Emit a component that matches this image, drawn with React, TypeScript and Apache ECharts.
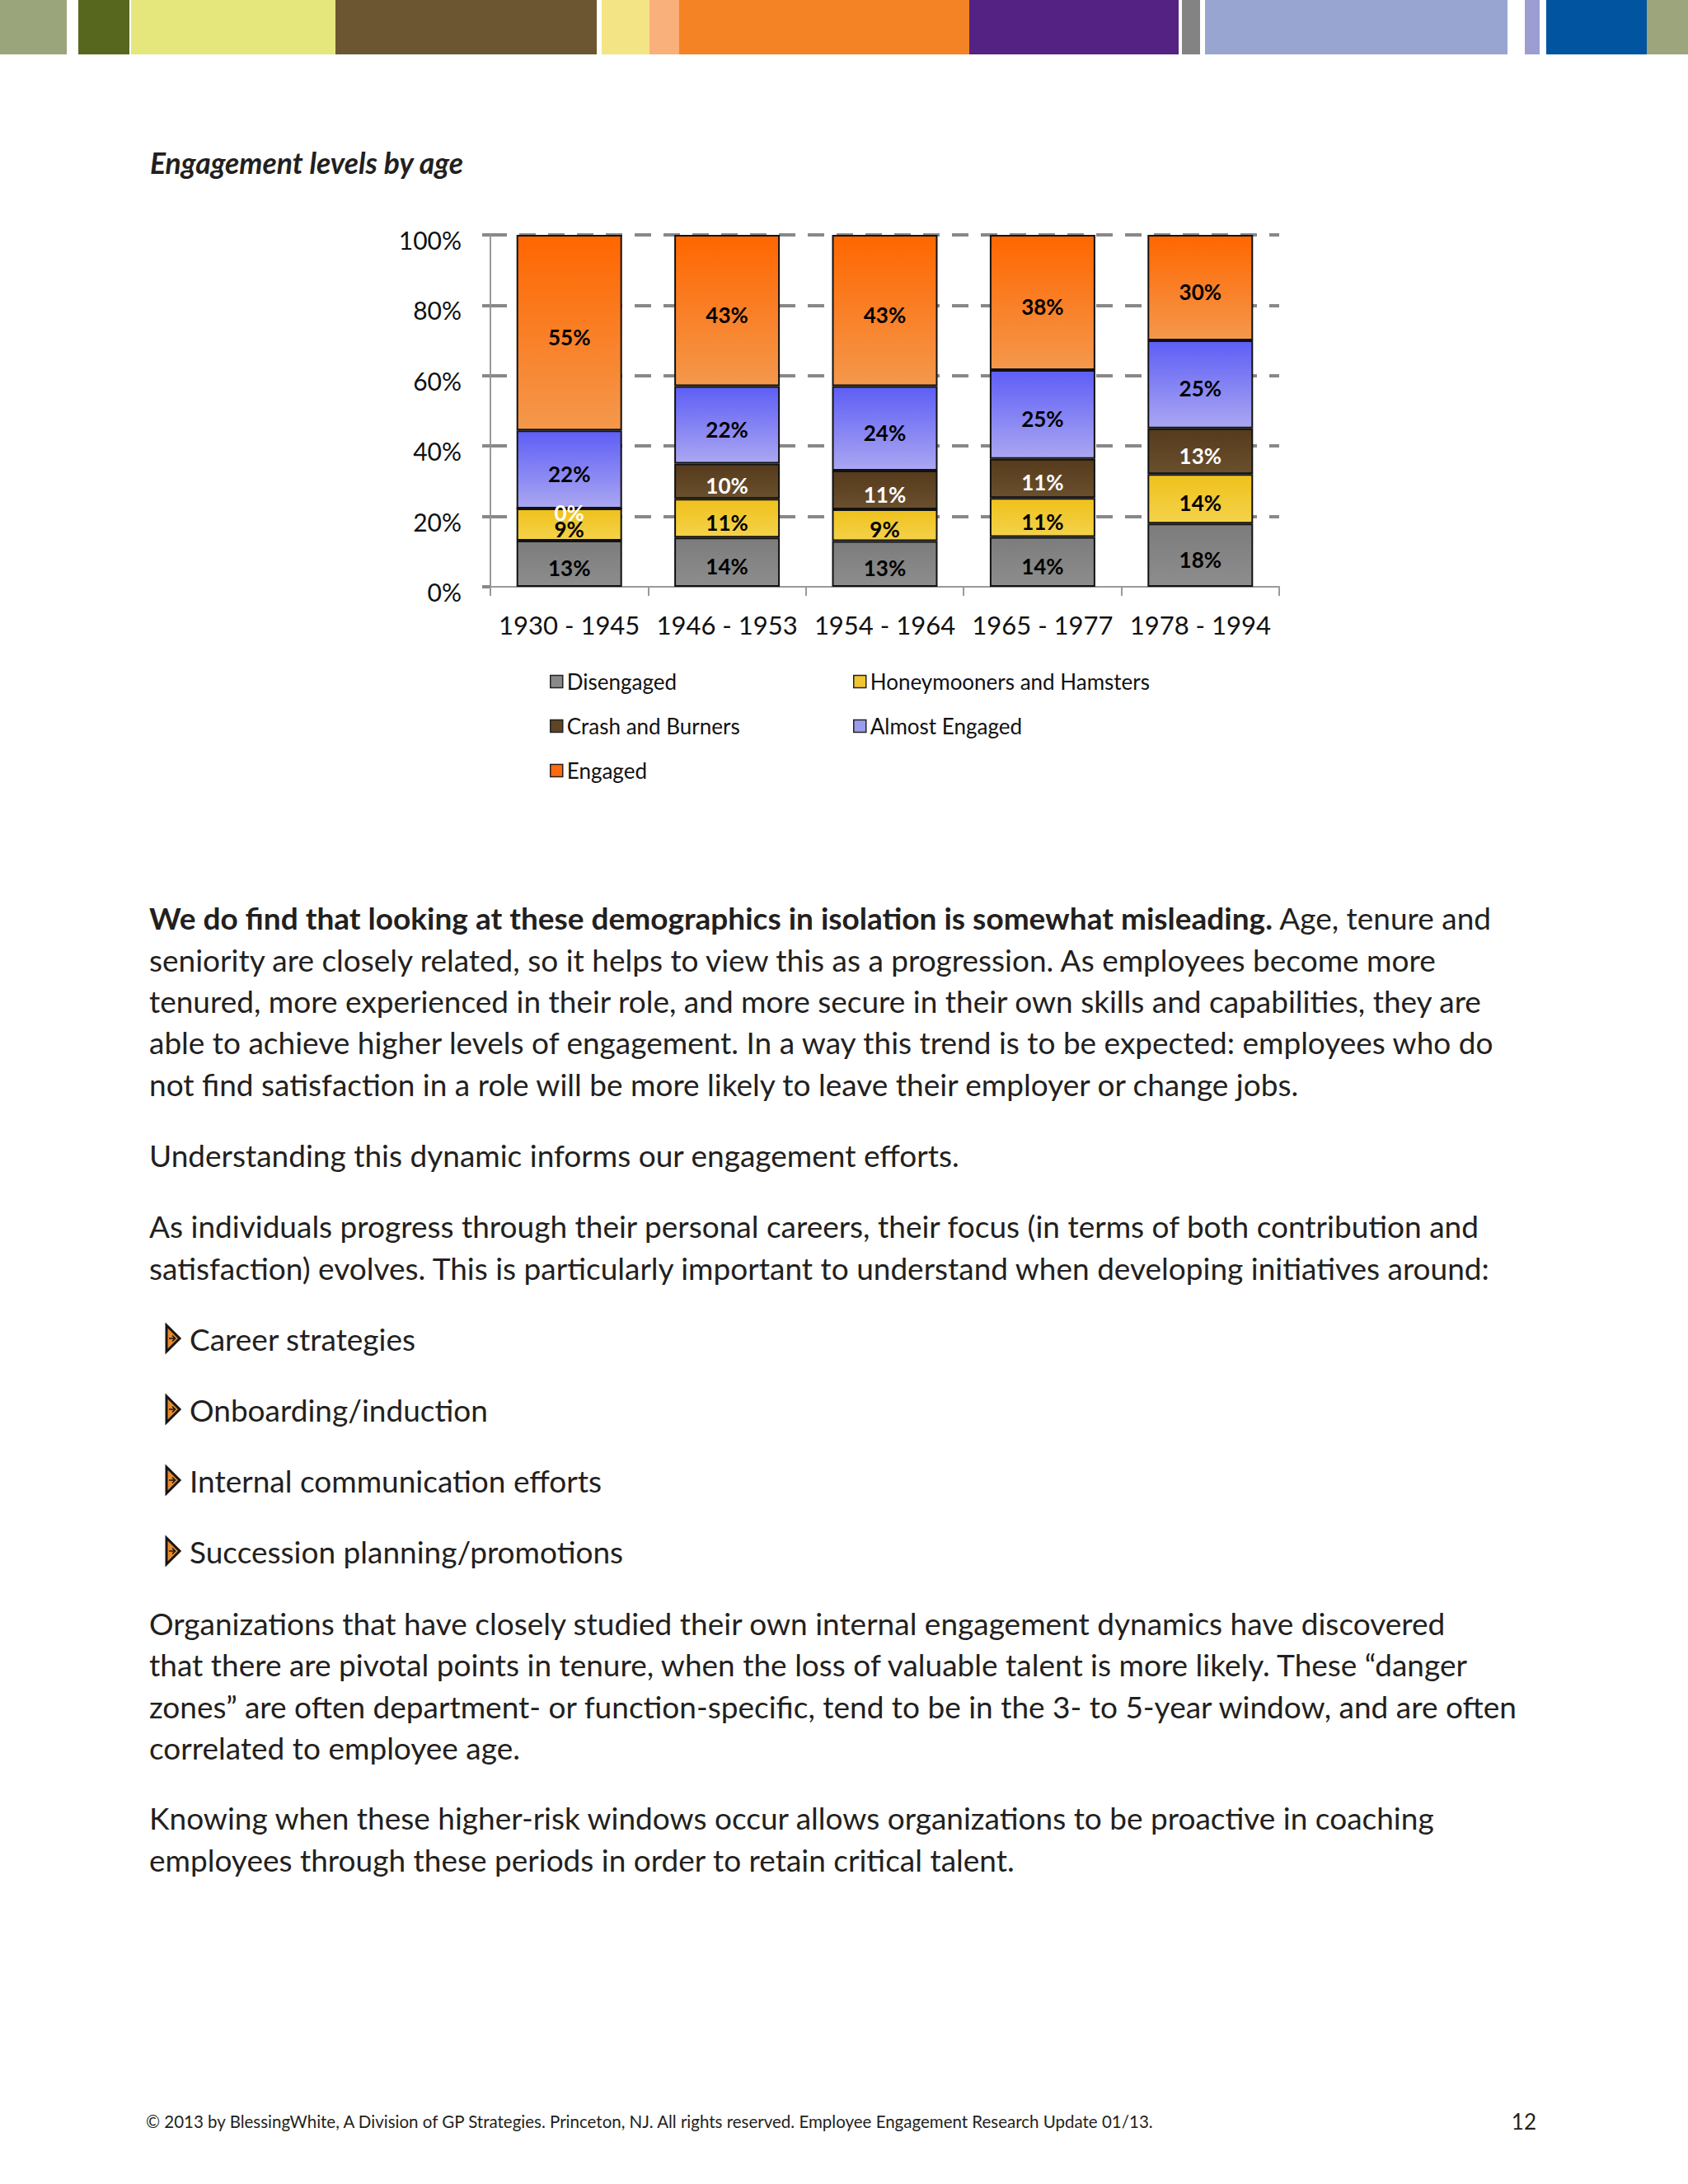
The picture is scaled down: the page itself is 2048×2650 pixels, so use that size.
import React, { useEffect, useRef } from 'react';
import * as echarts from 'echarts';

// ---------------- DATA ----------------
const categories = ['1930 - 1945', '1946 - 1953', '1954 - 1964', '1965 - 1977', '1978 - 1994'];
const seriesNames = ['Disengaged', 'Honeymooners and Hamsters', 'Crash and Burners', 'Almost Engaged', 'Engaged'];
const disengaged = [13, 14, 13, 14, 18];
const honeymooners = [9, 11, 9, 11, 14];
const crashBurners = [0, 10, 11, 11, 13];
const almostEngaged = [22, 22, 24, 25, 25];
const engaged = [55, 43, 43, 38, 30];
const yMax = 100;
const yInterval = 20;

const chartTitle = 'Engagement levels by age';
const para1Bold = 'We do find that looking at these demographics in isolation is somewhat misleading.';
const para1Rest = ' Age, tenure and';
const para1 = [
  'seniority are closely related, so it helps to view this as a progression. As employees become more',
  'tenured, more experienced in their role, and more secure in their own skills and capabilities, they are',
  'able to achieve higher levels of engagement. In a way this trend is to be expected: employees who do',
  'not find satisfaction in a role will be more likely to leave their employer or change jobs.',
];
const para2 = ['Understanding this dynamic informs our engagement efforts.'];
const para3 = [
  'As individuals progress through their personal careers, their focus (in terms of both contribution and',
  'satisfaction) evolves. This is particularly important to understand when developing initiatives around:',
];
const bulletItems = ['Career strategies', 'Onboarding/induction', 'Internal communication efforts', 'Succession planning/promotions'];
const para4 = [
  'Organizations that have closely studied their own internal engagement dynamics have discovered',
  'that there are pivotal points in tenure, when the loss of valuable talent is more likely. These \u201Cdanger',
  'zones\u201D are often department- or function-specific, tend to be in the 3- to 5-year window, and are often',
  'correlated to employee age.',
];
const para5 = [
  'Knowing when these higher-risk windows occur allows organizations to be proactive in coaching',
  'employees through these periods in order to retain critical talent.',
];
const footerText = '\u00A9 2013 by BlessingWhite, A Division of GP Strategies. Princeton, NJ. All rights reserved. Employee Engagement Research Update 01/13.';
const pageNumber = '12';

// ---------------- STYLE / LAYOUT ----------------
const W = 2048;
const H = 2650;
const TEXT = '#231F20';
const BODY_FONT = 'Lato, "Open Sans", sans-serif';
const CHART_FONT = 'Lato, "Open Sans", sans-serif';
const BODY_SIZE = 37;

const topStrips: [number, number, string][] = [
  [0, 81, '#9BA57B'],
  [95, 157, '#58671E'],
  [159, 407, '#E5E67C'],
  [407, 724, '#6C5631'],
  [730, 788, '#F3E585'],
  [788, 824, '#F9B07A'],
  [824, 1176, '#F48326'],
  [1176, 1430, '#542283'],
  [1434, 1456, '#838383'],
  [1462, 1829, '#97A5D0'],
  [1850, 1868, '#9C9DD1'],
  [1876, 1998, '#0154A0'],
  [1998, 2048, '#9CA57B'],
];

const gradients: [string, string][] = [
  ['#7C7C7C', '#8D8D8D'],
  ['#EFC11C', '#F4D24A'],
  ['#553A1C', '#6B502E'],
  ['#5E5EF6', '#AAA7F1'],
  ['#FF6600', '#F4984C'],
];
const labelColors = ['#000', '#000', '#fff', '#000', '#000'];
const legendColors = ['#898989', '#F0C530', '#5E4526', '#9C9CEE', '#FF6A10'];

function buildOption() {
  const raw = [disengaged, honeymooners, crashBurners, almostEngaged, engaged];
  const totals = categories.map((_, i) => raw.reduce((s, arr) => s + arr[i], 0));

  const series = raw.map((arr, si) => ({
    name: seriesNames[si],
    type: 'bar',
    stack: 'total',
    barWidth: 128,
    data: arr.map((v, i) => (v / totals[i]) * 100),
    itemStyle: {
      color: new echarts.graphic.LinearGradient(0, 0, 0, 1, [
        { offset: 0, color: gradients[si][0] },
        { offset: 1, color: gradients[si][1] },
      ]),
      borderColor: '#111',
      borderWidth: 2,
    },
    label: {
      show: true,
      position: 'inside',
      offset: [0, 5],
      formatter: (p: any) => `${raw[si][p.dataIndex]}%`,
      fontFamily: CHART_FONT,
      fontWeight: 'bold',
      fontSize: 26,
      color: labelColors[si],
    },
    emphasis: { disabled: true },
  }));

  const graphics: any[] = [];
  topStrips.forEach(([x0, x1, c]) => {
    graphics.push({ type: 'rect', shape: { x: x0, y: 0, width: x1 - x0, height: 66 }, style: { fill: c }, silent: true });
  });

  graphics.push({
    type: 'text', x: 182, y: 197, silent: true,
    style: { text: chartTitle, fontFamily: BODY_FONT, fontWeight: 'bold', fontStyle: 'italic', fontSize: 35.5, fill: TEXT, align: 'left', verticalAlign: 'middle' },
  });

  const addLine = (text: string, x: number, y: number) => {
    graphics.push({
      type: 'text', x, y, silent: true,
      style: { text, fontFamily: BODY_FONT, fontSize: BODY_SIZE, fill: TEXT, align: 'left', verticalAlign: 'middle' },
    });
  };

  // paragraph 1 first line (bold lead-in)
  graphics.push({
    type: 'text', x: 181, y: 1113, silent: true,
    style: {
      text: `{b|${para1Bold}}{r|${para1Rest}}`,
      align: 'left', verticalAlign: 'middle',
      rich: {
        b: { fontFamily: BODY_FONT, fontWeight: 'bold', fontSize: BODY_SIZE, fill: TEXT, color: TEXT },
        r: { fontFamily: BODY_FONT, fontSize: BODY_SIZE, fill: TEXT, color: TEXT },
      },
    },
  });
  const p1Y = [1164, 1214, 1264, 1315];
  para1.forEach((t, i) => addLine(t, 181, p1Y[i]));
  addLine(para2[0], 181, 1401);
  const p3Y = [1487, 1538];
  para3.forEach((t, i) => addLine(t, 181, p3Y[i]));

  const bY = [1624, 1710, 1796, 1882];
  bulletItems.forEach((t, i) => {
    const cy = bY[i];
    graphics.push({
      type: 'polygon', silent: true,
      shape: { points: [[202, cy - 16], [218, cy], [202, cy + 16]] },
      style: { fill: '#E98A2C', stroke: '#151515', lineWidth: 3 },
    });
    graphics.push({
      type: 'polyline', silent: true,
      shape: { points: [[205, cy], [212, cy]] },
      style: { stroke: '#151515', lineWidth: 1.5, fill: null },
    });
    graphics.push({
      type: 'polyline', silent: true,
      shape: { points: [[209, cy - 3.5], [212.5, cy], [209, cy + 3.5]] },
      style: { stroke: '#151515', lineWidth: 1.5, fill: null },
    });
    addLine(t, 230, cy);
  });

  const p4Y = [1969, 2019, 2070, 2120];
  para4.forEach((t, i) => addLine(t, 181, p4Y[i]));
  const p5Y = [2205, 2256];
  para5.forEach((t, i) => addLine(t, 181, p5Y[i]));

  graphics.push({
    type: 'text', x: 177, y: 2574, silent: true,
    style: { text: footerText, fontFamily: BODY_FONT, fontSize: 20.5, fill: TEXT, align: 'left', verticalAlign: 'middle' },
  });
  graphics.push({
    type: 'text', x: 1864, y: 2574, silent: true,
    style: { text: pageNumber, fontFamily: BODY_FONT, fontSize: 26, fill: TEXT, align: 'right', verticalAlign: 'middle' },
  });

  const legendCommon = {
    orient: 'vertical',
    icon: 'rect',
    itemWidth: 15,
    itemHeight: 15,
    itemGap: 24,
    padding: 0,
    selectedMode: false,
    itemStyle: { borderColor: '#222', borderWidth: 1.5 },
    textStyle: { fontFamily: CHART_FONT, fontSize: 26, lineHeight: 30, color: '#111' },
  };
  const legendItem = (i: number) => ({ name: seriesNames[i], itemStyle: { color: legendColors[i] } });

  return {
    animation: false,
    backgroundColor: '#ffffff',
    grid: { left: 595, top: 285, width: 957, height: 427, containLabel: false, outerBoundsMode: 'none' },
    legend: [
      { ...legendCommon, left: 667, top: 812, data: [legendItem(0), legendItem(2), legendItem(4)] },
      { ...legendCommon, left: 1035, top: 812, data: [legendItem(1), legendItem(3)] },
    ],
    xAxis: {
      type: 'category',
      data: categories,
      axisLine: { show: true, lineStyle: { color: '#9A9A9A', width: 2 } },
      axisTick: { show: true, length: 11, lineStyle: { color: '#9A9A9A', width: 2 } },
      axisLabel: { interval: 0, hideOverlap: false, fontFamily: CHART_FONT, fontSize: 31, color: '#111', margin: 30 },
    },
    yAxis: {
      type: 'value',
      min: 0,
      max: yMax,
      interval: yInterval,
      axisLine: { show: true, lineStyle: { color: '#9A9A9A', width: 2 } },
      axisTick: { show: true, length: 10, lineStyle: { color: '#888', width: 4 } },
      axisLabel: {
        formatter: '{a|{value}%}',
        margin: 35,
        rich: { a: { fontFamily: CHART_FONT, fontSize: 30, color: '#111', padding: [12, 0, 0, 0] } },
      },
      splitLine: { show: true, showMinLine: false, lineStyle: { color: '#888', width: 4, type: [20, 15] } },
    },
    series,
    graphic: { elements: graphics },
  };
}

export default function App() {
  const ref = useRef<HTMLDivElement>(null);
  useEffect(() => {
    document.body.style.margin = '0';
    document.body.style.background = '#ffffff';
    if (!ref.current) return;
    const chart = echarts.init(ref.current, null, { renderer: 'svg' });
    chart.setOption(buildOption() as any);
    return () => chart.dispose();
  }, []);
  return <div ref={ref} style={{ width: W, height: H, background: '#fff' }} />;
}
